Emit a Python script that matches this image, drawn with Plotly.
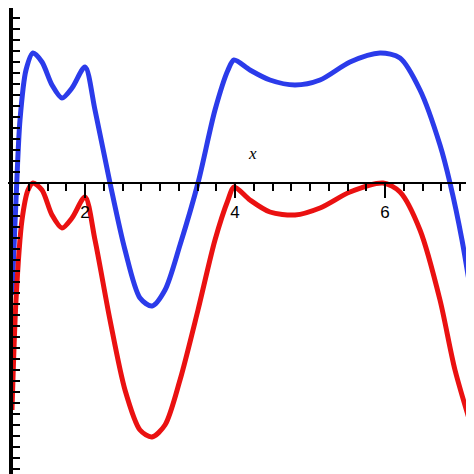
import plotly.graph_objects as go

# pixel-digitized, converted below via axis scales
blue_px = [12,16,20,26,33,42,52,62,72,85,95,110,125,140,152,165,180,198,215,228,234,250,270,295,320,350,380,400,420,440,450,462,474]
blue_py = [295,200,120,70,53,62,85,98,88,67,110,183,250,298,306,290,245,183,110,70,60,70,80,85,80,62,53,58,90,145,183,240,312]
red_px = [12,16,22,28,33,42,52,62,72,85,95,110,125,140,152,165,180,198,215,228,234,250,270,295,320,350,383,400,420,440,455,474]
red_py = [410,300,220,190,183,190,215,228,218,197,240,320,390,430,437,425,380,310,240,200,187,200,212,215,208,192,183,192,230,300,370,435]

bx = [2+(p-85)/75 for p in blue_px]; by = [(183-p)/44 for p in blue_py]
rx = [2+(p-85)/75 for p in red_px]; ry = [(183-p)/44 for p in red_py]

OFF = 8  # page body margin
fig = go.Figure()
fig.add_trace(go.Scatter(x=bx, y=by, mode="lines", line=dict(color="#2b3bea", width=5, shape="spline", smoothing=0.8)))
fig.add_trace(go.Scatter(x=rx, y=ry, mode="lines", line=dict(color="#ea1111", width=5, shape="spline", smoothing=0.8)))
fig.update_layout(width=474, height=474, margin=dict(l=0, r=0, t=0, b=0), showlegend=False,
                  plot_bgcolor="white", paper_bgcolor="white")
fig.update_xaxes(range=[2+(OFF-85)/75, 2+(474+OFF-85)/75], anchor="free", position=1-(183-OFF)/474, showgrid=False, zeroline=False,
                 showline=True, linecolor="black", linewidth=2, ticks="outside", ticklen=14, tickwidth=2, tickcolor="black",
                 tick0=0, dtick=2, tickfont=dict(family="Liberation Sans", size=17, color="black"),
                 minor=dict(dtick=0.25, ticks="outside", ticklen=7, tickwidth=2, tickcolor="black"))
fig.update_yaxes(range=[(183-474-OFF)/44, (183-OFF)/44], anchor="free", position=(11-OFF)/474, showgrid=False, zeroline=False,
                 showline=True, linecolor="black", linewidth=4, ticks="inside", ticklen=7, tickwidth=2, tickcolor="black",
                 dtick=0.25, showticklabels=False)
fig.add_annotation(x=2+(252-85)/75, y=(183-153)/44, text="<i>x</i>", showarrow=False,
                   font=dict(family="Liberation Serif", size=17, color="black"))
fig.write_html("out.html")
